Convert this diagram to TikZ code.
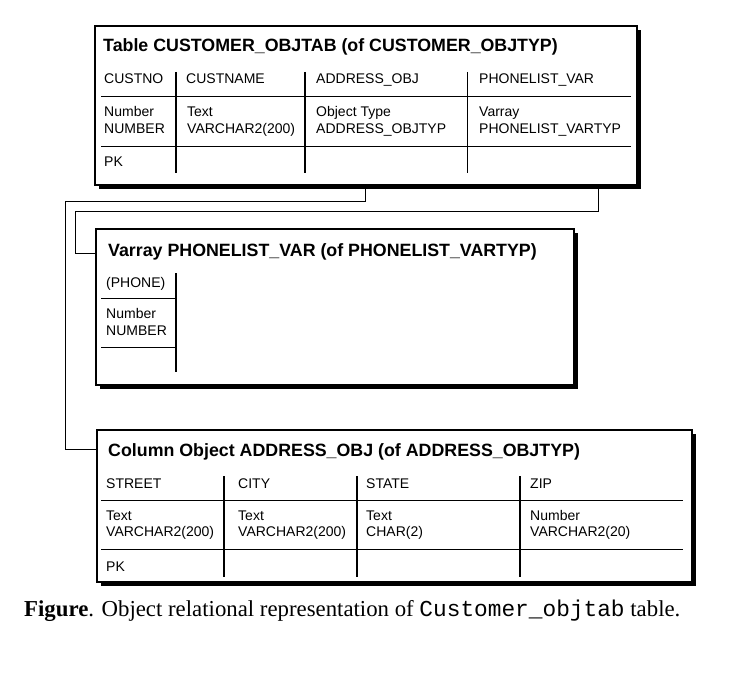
\documentclass[tikz,border=0pt]{standalone}
\usepackage{fontspec}
\setmainfont{Liberation Serif}
\setsansfont{Liberation Sans}
\setmonofont{Liberation Mono}
\begin{document}
\begin{tikzpicture}[x=1pt,y=-1pt,
 tbox/.style={draw=black, line width=1.2pt, fill=white, rectangle, inner sep=0pt, outer sep=0pt, anchor=north west},
 shade/.style={fill=black, rectangle, inner sep=0pt, outer sep=0pt, anchor=north west},
 ttl/.style={font=\fontsize{17.8}{21}\selectfont\sffamily\bfseries, anchor=base west, inner sep=0pt},
 cell/.style={font=\fontsize{14}{17}\selectfont\sffamily, anchor=base west, inner sep=0pt},
 hl/.style={line width=0.8pt},
 vthick/.style={line width=1.8pt},
 vthin/.style={line width=0.8pt},
 conn/.style={line width=0.8pt},
]
\useasboundingbox[fill=white] (0,0) rectangle (750,677);

% ---------- top table ----------
\node[shade, minimum width=542pt, minimum height=159pt] (topsh) at (99,30) {};
\node[tbox, minimum width=542pt, minimum height=159pt] (topbox) at (95,26) {};
\node[ttl] (toptitle) at (103,52) {Table CUSTOMER\_OBJTAB (of CUSTOMER\_OBJTYP)};
\node[cell] (t11) at (104,84) {CUSTNO};
\node[cell] (t12) at (186,84) {CUSTNAME};
\node[cell] (t13) at (316,84) {ADDRESS\_OBJ};
\node[cell] (t14) at (479,84) {PHONELIST\_VAR};
\node[cell] (t21) at (104,116) {Number};
\node[cell] (t22) at (187,116) {Text};
\node[cell] (t23) at (316,116) {Object Type};
\node[cell] (t24) at (479,116) {Varray};
\node[cell] (t31) at (104,133) {NUMBER};
\node[cell] (t32) at (187,133) {VARCHAR2(200)};
\node[cell] (t33) at (316,133) {ADDRESS\_OBJTYP};
\node[cell] (t34) at (479,133) {PHONELIST\_VARTYP};
\node[cell] (t41) at (104,166) {PK};
\draw[hl] (101,96) -- (631,96);
\draw[hl] (101,146) -- (631,146);
\draw[vthick] (176,72) -- (176,173);
\draw[vthick] (305,72) -- (305,173);
\draw[vthin] (467,72) -- (467,173);

% ---------- varray ----------
\node[shade, minimum width=478pt, minimum height=156pt] (varsh) at (100,233) {};
\node[tbox, minimum width=478pt, minimum height=156pt] (varbox) at (96,229) {};
\node[ttl] (vartitle) at (108,256) {Varray PHONELIST\_VAR (of PHONELIST\_VARTYP)};
\node[cell] (v1) at (106,287) {(PHONE)};
\node[cell] (v2) at (106,318) {Number};
\node[cell] (v3) at (106,335) {NUMBER};
\draw[hl] (101,298) -- (176,298);
\draw[hl] (101,347) -- (176,347);
\draw[vthick] (176,273) -- (176,372);

% ---------- column object ----------
\node[shade, minimum width=595pt, minimum height=152pt] (adrsh) at (101,434) {};
\node[tbox, minimum width=595pt, minimum height=152pt] (adrbox) at (97,430) {};
\node[ttl] (adrtitle) at (108,456) {Column Object ADDRESS\_OBJ (of ADDRESS\_OBJTYP)};
\node[cell] (a11) at (106,488) {STREET};
\node[cell] (a12) at (238,488) {CITY};
\node[cell] (a13) at (366,488) {STATE};
\node[cell] (a14) at (530,488) {ZIP};
\node[cell] (a21) at (106,520) {Text};
\node[cell] (a22) at (238,520) {Text};
\node[cell] (a23) at (366,520) {Text};
\node[cell] (a24) at (530,520) {Number};
\node[cell] (a31) at (106,536) {VARCHAR2(200)};
\node[cell] (a32) at (238,536) {VARCHAR2(200)};
\node[cell] (a33) at (366,536) {CHAR(2)};
\node[cell] (a34) at (530,536) {VARCHAR2(20)};
\node[cell] (a41) at (106,571) {PK};
\draw[hl] (101,500) -- (683,500);
\draw[hl] (101,549) -- (683,549);
\draw[vthick] (224,476) -- (224,577);
\draw[vthick] (357,476) -- (357,577);
\draw[vthick] (520,476) -- (520,577);

% ---------- connectors ----------
\coordinate (c1a) at (365,185);
\coordinate (c2a) at (598,185);
\draw[conn] (c1a) -- (365,201) -- (65,201) |- (adrbox.west |- 0,449);
\draw[conn] (c2a) -- (598,211) -- (75,211) |- (varbox.west |- 0,253);

% ---------- caption ----------
\node[anchor=base west, inner sep=0pt, font=\fontsize{22.8}{26}\selectfont] (caption) at (24,616)
 {\textbf{Figure}. Object relational representation of \texttt{Customer\_objtab} table.};
\end{tikzpicture}
\end{document}
